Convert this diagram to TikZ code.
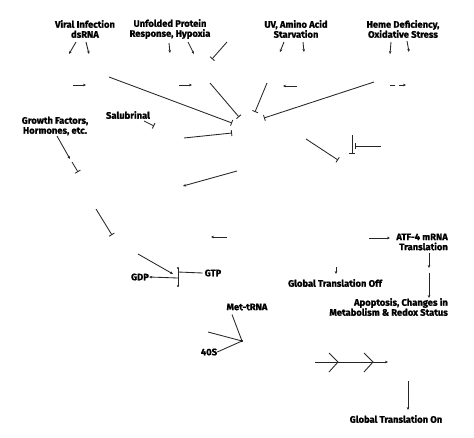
\documentclass[tikz,border=0pt]{standalone}
\usepackage{fontspec}
\setmainfont{Fira Sans}[BoldFeatures={FakeBold=1.2}]
\usetikzlibrary{arrows.meta}
\begin{document}
\begin{tikzpicture}[x=1pt,y=-1pt,
  lbl/.style={font=\bfseries\fontsize{9.4}{10}\selectfont, align=center, inner sep=0pt},
  lblr/.style={lbl, align=right},
  conn/.style={line width=0.85pt, black!85},
  act/.style={conn, -{Stealth[length=3pt,width=2.6pt]}},
  inh/.style={conn, -{Bar[width=6pt,line width=0.85pt]}},
  plain/.style={conn},
  dotend/.style={conn}]
\useasboundingbox[fill=white] (0,0) rectangle (474,437);
% labels
\node[lbl] (viral) at (85,29) {Viral Infection\\dsRNA};
\node[lbl] (upr) at (170,29) {Unfolded Protein\\Response, Hypoxia};
\node[lbl] (uv) at (296,29) {UV, Amino Acid\\Starvation};
\node[lbl] (heme) at (403,29) {Heme Deficiency,\\Oxidative Stress};
\node[lbl] (gf) at (55,126) {Growth Factors,\\Hormones, etc.};
\node[lbl] (sal) at (128,115) {Salubrinal};
\node[lbl] (gdp) at (140,277) {GDP};
\node[lbl] (gtp) at (213,273) {GTP};
\node[lbl] (met) at (247,307) {Met-tRNA};
\node[lbl] (s40) at (209,352) {40S};
\node[lblr, anchor=east] (atf) at (448,242) {ATF-4 mRNA\\Translation};
\node[lbl] (gtoff) at (335,283) {Global Translation Off};
\node[lblr, anchor=east] (apo) at (448,307) {Apoptosis, Changes in\\Metabolism \& Redox Status};
\node[lbl] (gton) at (396,419) {Global Translation On};
% coordinates
\coordinate (v1a) at (76,42);  \coordinate (v1b) at (69,54);
\coordinate (v2a) at (86,42);  \coordinate (v2b) at (89,54);
\coordinate (u1a) at (169,43); \coordinate (u1b) at (170,53);
\coordinate (u2a) at (188,42); \coordinate (u2b) at (194,54);
\coordinate (i1a) at (227,42); \coordinate (i1b) at (212,59);
\coordinate (s1a) at (284,42); \coordinate (s1b) at (280,52);
\coordinate (s2a) at (303,42); \coordinate (s2b) at (304,52);
\coordinate (h1a) at (391,42); \coordinate (h1b) at (390,54);
\coordinate (h2a) at (407,41); \coordinate (h2b) at (409,52);
\coordinate (a1a) at (73,85);  \coordinate (a1b) at (86,85);
\coordinate (a2a) at (179,85); \coordinate (a2b) at (192,85);
\coordinate (a3a) at (297,86); \coordinate (a3b) at (283,86);
\coordinate (a4a) at (390,85); \coordinate (a4b) at (406,85);
\coordinate (l1a) at (109,77); \coordinate (l1b) at (232,123);
\coordinate (l2a) at (210,83); \coordinate (l2b) at (239,117);
\coordinate (l3a) at (267,83); \coordinate (l3b) at (255,112);
\coordinate (l4a) at (374,82); \coordinate (l4b) at (264,118);
\coordinate (l5a) at (184,138); \coordinate (l5b) at (232,133);
\coordinate (sala) at (144,121); \coordinate (salb) at (154,126);
\coordinate (g1a) at (57,136); \coordinate (g1b) at (70,159);
\coordinate (g2a) at (72,162); \coordinate (g2b) at (78,172);
\coordinate (l6a) at (237,171); \coordinate (l6b) at (183,186);
\coordinate (l7a) at (306,139); \coordinate (l7b) at (338,160);
\coordinate (vba) at (352,135); \coordinate (vbb) at (352,154);
\coordinate (hba) at (381,146); \coordinate (hbb) at (355,146);
\coordinate (l8a) at (96,209); \coordinate (l8b) at (112,235);
\coordinate (a5a) at (227,237); \coordinate (a5b) at (211,237);
\coordinate (l9a) at (138,254); \coordinate (l9b) at (173,274);
\coordinate (gtpb) at (178,272);
\coordinate (vta) at (178,268); \coordinate (vtb) at (178,286);
\coordinate (gdpa) at (178,278);
\coordinate (hub) at (242,341);
\coordinate (ma) at (208,332);
\coordinate (atfa) at (369,238); \coordinate (atfb) at (390,238);
\coordinate (d1a) at (429,253); \coordinate (d1b) at (429,268);
\coordinate (d2a) at (429,273); \coordinate (d2b) at (429,298);
\coordinate (d3a) at (336,267); \coordinate (d3b) at (336,274);
\coordinate (cha) at (315,362); \coordinate (chb) at (388,362);
\coordinate (c1t) at (329,353); \coordinate (c1m) at (338,362); \coordinate (c1d) at (329,372);
\coordinate (c2t) at (364,353); \coordinate (c2m) at (373,362); \coordinate (c2d) at (364,372);
\coordinate (d4a) at (408,381); \coordinate (d4b) at (408,410);
% connectors
\draw[act] (v1a) -- (v1b);
\draw[act] (v2a) -- (v2b);
\draw[act] (u1a) -- (u1b);
\draw[act] (u2a) -- (u2b);
\draw[inh] (i1a) -- (i1b);
\draw[act] (s1a) -- (s1b);
\draw[act] (s2a) -- (s2b);
\draw[act] (h1a) -- (h1b);
\draw[act] (h2a) -- (h2b);
\draw[act] (a1a) -- (a1b);
\draw[act] (a2a) -- (a2b);
\draw[act] (a3a) -- (a3b);
\draw[act, dash pattern=on 5pt off 4pt] (a4a) -- (a4b);
\draw[inh] (l1a) -- (l1b);
\draw[inh] (l2a) -- (l2b);
\draw[inh] (l3a) -- (l3b);
\draw[inh] (l4a) -- (l4b);
\draw[inh] (l5a) -- (l5b);
\draw[inh] (sala) -- (salb);
\draw[act] (g1a) -- (g1b);
\draw[inh] (g2a) -- (g2b);
\draw[act] (l6a) -- (l6b);
\draw[inh] (l7a) -- (l7b);
\draw[inh] (vba) -- (vbb);
\draw[inh] (hba) -- (hbb);
\draw[inh] (l8a) -- (l8b);
\draw[act] (a5a) -- (a5b);
\draw[act] (l9a) -- (l9b);
\draw[plain] (gtp.west) ++(-2,0) coordinate (gtpa) (gtpa) -- (gtpb);
\draw[dotend] (vta) -- (vtb);
\fill[black!85] (vta) circle (1.2pt) (vtb) circle (1.2pt);
\draw[act] (gdpa) -- (gdp.east);
\draw[plain] (met.south) ++(-15,4) coordinate (meta) (meta) -- (hub);
\draw[plain] (ma) -- (hub);
\draw[plain] (s40.east) -- (hub);
\fill (hub) circle (1.2pt);
\draw[act] (atfa) -- (atfb);
\draw[act] (d1a) -- (d1b);
\draw[act] (d2a) -- (d2b);
\draw[act] (d3a) -- (d3b);
\draw[act] (cha) -- (chb);
\draw[plain] (c1t) -- (c1m) -- (c1d);
\draw[plain] (c2t) -- (c2m) -- (c2d);
\draw[act] (d4a) -- (d4b);
\end{tikzpicture}
\end{document}
